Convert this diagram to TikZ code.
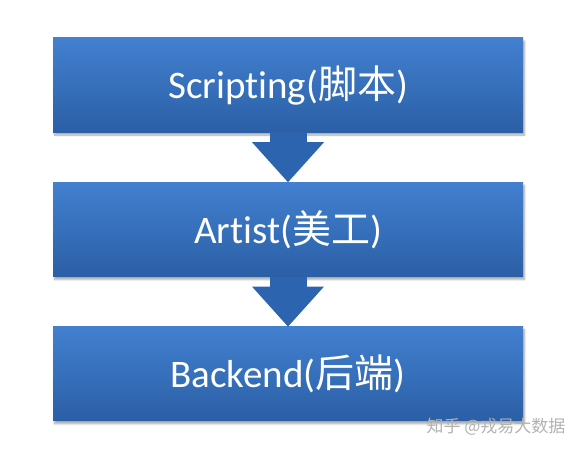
\documentclass[tikz,border=0pt]{standalone}
\usepackage{fontspec}
\setmainfont{Carlito}[Ligatures=NoCommon]
\newfontfamily\cjk{Noto Sans CJK SC}
\usepackage{tikz}
\usetikzlibrary{arrows.meta, positioning, shadows.blur}

\definecolor{tiertop}{RGB}{66,128,208}
\definecolor{tierbottom}{RGB}{43,95,166}
\definecolor{flowblue}{RGB}{45,100,176}

\begin{document}
\begin{tikzpicture}[node distance=50pt, auto,
    tier/.style={rectangle, minimum width=470pt, minimum height=94pt, inner sep=0pt,
                 text centered, top color=tiertop, bottom color=tierbottom, text=white,
                 font=\fontsize{39}{42}\selectfont,
                 blur shadow={shadow xshift=1.5pt, shadow yshift=-3pt, shadow blur steps=6, shadow opacity=35}},
    flow/.style={line width=37pt, draw=flowblue, -{Triangle[width=72pt, length=40pt, line width=0pt]}}]
    \useasboundingbox (0,0) rectangle (584pt,-452pt);

    % Arrows sit under the boxes
    \coordinate (top) at (288pt,-85pt);

    % Nodes
    \node[tier] (scripting) at (top) {Scripting({\cjk 脚本})};
    \node[tier, below=of scripting] (artist) {Artist({\cjk 美工})};
    \node[tier, below=of artist] (backend) {Backend({\cjk 后端})};

    % Arrows
    \draw[flow] (scripting.south) -- (artist.north);
    \draw[flow] (artist.south) -- (backend.north);

    % watermark
    \node[text=black!30, font=\cjk\fontsize{17}{18}\selectfont, anchor=east]
        (watermark) at (569pt,-427pt) {知乎 @戎易大数据};
\end{tikzpicture}
\end{document}
